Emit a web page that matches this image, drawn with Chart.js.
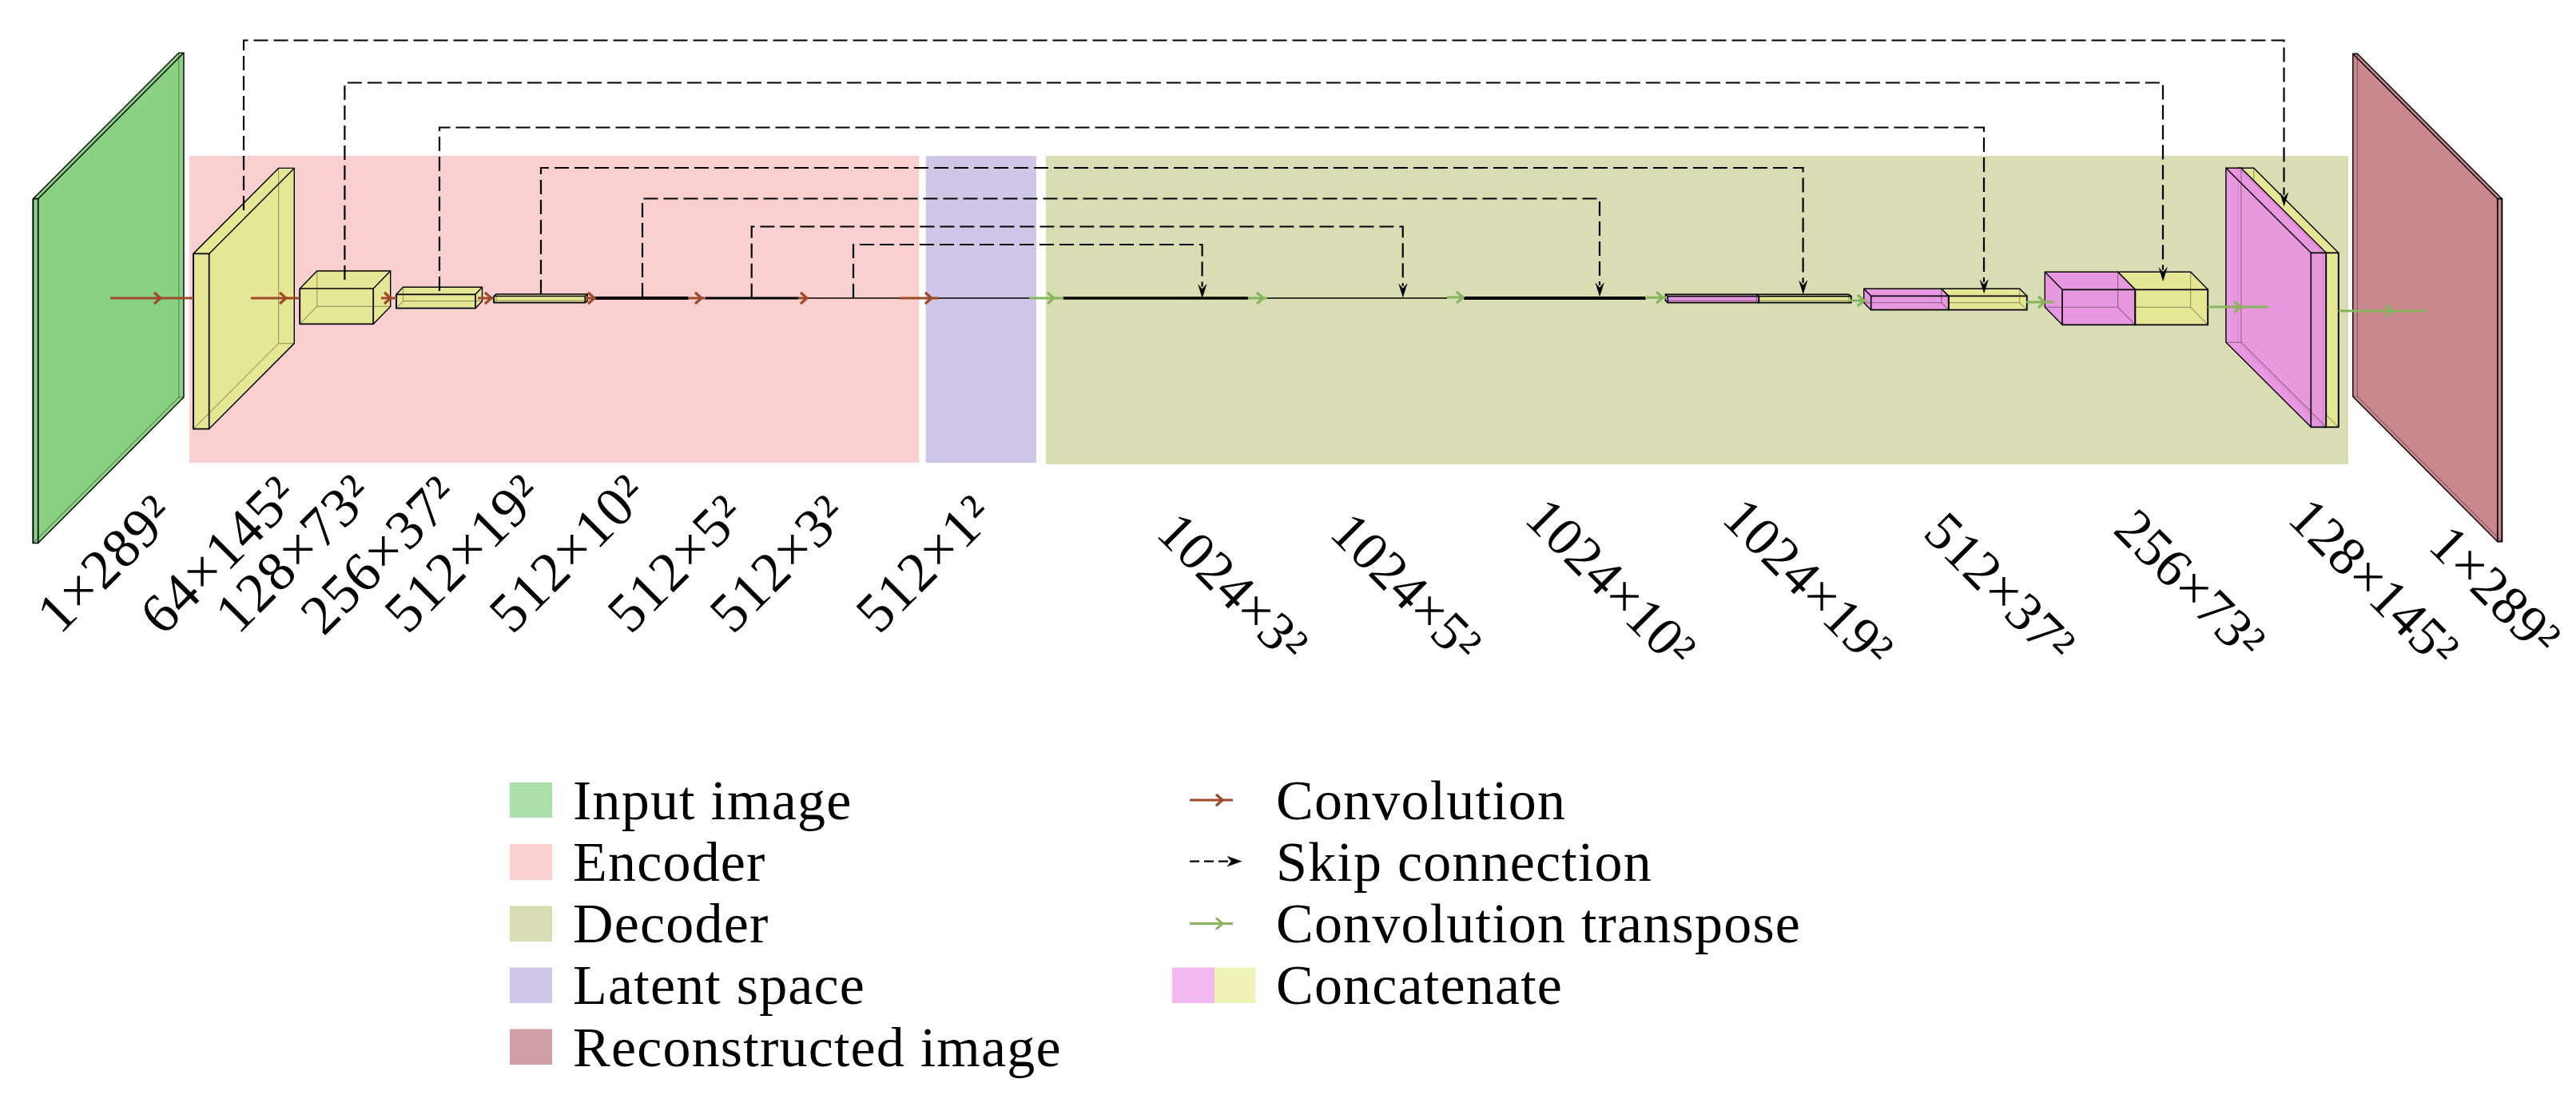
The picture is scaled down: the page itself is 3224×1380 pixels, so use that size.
<!DOCTYPE html>
<html>
<head>
<meta charset="utf-8">
<style>
  html, body { margin: 0; padding: 0; background: #fff; }
  canvas { display: block; }
</style>
<script src="https://cdn.jsdelivr.net/npm/chart.js@4"></script>
</head>
<body>
<canvas id="chart" width="3224" height="1380"></canvas>
<script>
// Diagram values. One unit on each axis is one unit of the drawing.
const regionNames = ["Encoder", "Latent space", "Decoder"];
const regionLeft = [237, 1158.7, 1308.9];
const regionRight = [1150.3, 1297, 2939];
const regionTop = [195, 195, 195];
const regionBottom = [579, 579, 580.8];

// Blocks: front face plus the offset of the back face.
// In a concatenated pair the yellow part comes first, the pink one lies over it.
const boxKinds = ["input", "feature", "feature", "feature", "feature",
  "feature", "skip", "feature", "skip", "feature", "skip", "feature", "skip", "output"];
const boxLeft = [41.4, 242, 375.3, 496, 618, 2201.3, 2087.3, 2438.7, 2341.7, 2672.3, 2581, 2907.3, 2892.3, 3125.8];
const boxRight = [47.7, 261.7, 467.2, 595, 732.4, 2316.7, 2201.3, 2536.7, 2438.7, 2763.3, 2672.3, 2926.7, 2911.3, 3131.4];
const boxTop = [248.7, 317.4, 361, 368.3, 370.5, 370.7, 370.7, 370.3, 370.3, 362.3, 362.3, 316.3, 316.3, 248.7];
const boxBottom = [679.5, 536.6, 405.4, 385.7, 378.6, 378.7, 378.7, 387.7, 387.7, 406.3, 406.3, 534.3, 534.3, 677.7];
const boxDepthX = [182.3, 106.6, 21.5, 8.5, 3, -3, -3, -9, -9, -21.7, -21.7, -106, -106.4, -181];
const boxDepthY = [-182.6, -107, -22, -9, -2.5, -2.5, -2.5, -9, -9, -22, -22, -106, -106, -181.5];

// Flat layers, too thin to show as blocks
const flatStart = [745, 882.5, 1010, 1175, 1330.6, 1586, 1832];
const flatEnd = [861.5, 999.6, 1126, 1288.5, 1562, 1811, 2060];
const flatWeight = [4, 3, 1.5, 1.5, 3.5, 1.5, 4];
const flatLevel = 373;

// Convolution arrows
const convStart = [138, 314, 477, 598, 733, 861, 1000, 1126];
const convEnd = [242, 375, 496, 618, 745, 882, 1010, 1175];
const convTip = [201, 358, 489, 615, 744, 878, 1010, 1166];
const convLevel = [373, 373, 373, 373, 373, 373, 373, 373];

// Convolution transpose arrows
const transStart = [1288.5, 1562, 1811, 2059, 2315.7, 2536, 2763.3, 2926.7];
const transEnd = [1330.6, 1586, 1832, 2086, 2336.7, 2571, 2839, 3036];
const transTip = [1319, 1581, 1831, 2081, 2332.7, 2559, 2804, 2994];
const transLevel = [373, 373, 372, 372.3, 376, 378, 384, 389];

// Skip connections
const skipFromX = [305, 431.4, 550, 677, 804, 940.7, 1068];
const skipFromY = [263, 350, 364, 368, 372, 372.8, 373];
const skipLevel = [50.5, 103.5, 159.5, 210, 248.5, 283.5, 306];
const skipToX = [2858.5, 2707, 2483, 2256.6, 2002, 1755.7, 1504.6];
const skipToY = [258, 351.7, 367, 368, 371, 372, 372.8];

// Size labels under the blocks
const encoderLabels = ["1×289²", "64×145²", "128×73²", "256×37²", "512×19²", "512×10²", "512×5²", "512×3²", "512×1²"];
const encoderLabelX = [75, 204, 298, 405, 510, 641, 789, 917, 1100];
const encoderLabelY = [795, 797, 795, 797, 795, 795, 795, 795, 795];
const decoderLabels = ["1024×3²", "1024×5²", "1024×10²", "1024×19²", "512×37²", "256×73²", "128×145²", "1×289²"];
const decoderLabelX = [1445, 1662, 1906, 2153, 2405, 2643, 2861, 3037];
const decoderLabelY = [669, 669, 651, 651, 669, 665, 651, 685];

// Legend
const legendLeftNames = ["Input image", "Encoder", "Decoder", "Latent space", "Reconstructed image"];
const legendLeftColors = ["#addfa8", "#f9cfd0", "#d9ddb4", "#d0c6e7", "#d09ea3"];
const legendRightNames = ["Convolution", "Skip connection", "Convolution transpose", "Concatenate"];
const legendRowTop = [979, 1056, 1133.5, 1210.5, 1287.5];
const legendRowBottom = [1023, 1101, 1178, 1255, 1332];
const legendBaseline = [1025, 1102, 1179, 1256, 1333.6];

const KIND_COLORS = {
  input: "#8ad184",
  feature: "#e6e794",
  skip: "rgba(232, 148, 226, 0.94)",
  output: "#c9878e",
};
const REGION_COLORS = ["#f9cfd0", "#d0c6e7", "#d9ddb4"];
const BROWN = "#9c4a2a";
const GREEN = "#86b55d";
const HIDDEN_EDGE = "rgba(0, 0, 0, 0.32)";

const datasets = [];

function addPath(points, style) {
  datasets.push({
    type: "scatter",
    showLine: true,
    data: points.map(([x, y]) => ({ x, y })),
    pointRadius: 0,
    tension: 0,
    borderColor: style.color || "#000",
    borderWidth: style.width === undefined ? 1.5 : style.width,
    borderDash: style.dash || [],
    borderCapStyle: "butt",
    borderJoinStyle: "miter",
    backgroundColor: style.fill || "transparent",
    fill: style.fill ? "shape" : false,
    order: -datasets.length,
  });
}

function addBox(i) {
  const [l, r, t, b] = [boxLeft[i], boxRight[i], boxTop[i], boxBottom[i]];
  const [dx, dy] = [boxDepthX[i], boxDepthY[i]];
  const fill = KIND_COLORS[boxKinds[i]];
  // near = side of the front face the depth runs towards
  const [near, far] = dx > 0 ? [r, l] : [l, r];

  addPath([[far, b], [far, t], [far + dx, t + dy], [near + dx, t + dy], [near + dx, b + dy], [near, b]],
    { fill, color: "#000", width: 1.4 });
  // edges at the back, seen through the block
  addPath([[far + dx, t + dy], [far + dx, b + dy], [near + dx, b + dy]], { color: HIDDEN_EDGE, width: 1.2 });
  addPath([[far, b], [far + dx, b + dy]], { color: HIDDEN_EDGE, width: 1.2 });
  // front face and the top edge
  addPath([[l, t], [r, t], [r, b], [l, b], [l, t]], { width: 1.7 });
  addPath([[near, t], [near + dx, t + dy]], { width: 1.4 });
}

function addArrow(start, end, tip, y, color) {
  addPath([[start, y], [end, y]], { color, width: 3 });
  addPath([[tip - 8, y - 7], [tip, y], [tip - 8, y + 7]], { color, width: 3.2 });
}

function addSkipHead(x, tipY) {
  addPath([[x - 5.3, tipY - 17], [x, tipY - 11], [x + 5.3, tipY - 17], [x, tipY]],
    { fill: "#000", color: "#000", width: 0.5 });
}

regionNames.forEach((name, i) => {
  addPath([[regionLeft[i], regionTop[i]], [regionRight[i], regionTop[i]],
    [regionRight[i], regionBottom[i]], [regionLeft[i], regionBottom[i]]],
    { fill: REGION_COLORS[i], color: "transparent", width: 0 });
});

boxKinds.forEach((kind, i) => addBox(i));

flatStart.forEach((x, i) => addPath([[x, flatLevel], [flatEnd[i], flatLevel]], { width: flatWeight[i] }));

convStart.forEach((x, i) => addArrow(x, convEnd[i], convTip[i], convLevel[i], BROWN));
transStart.forEach((x, i) => addArrow(x, transEnd[i], transTip[i], transLevel[i], GREEN));

skipFromX.forEach((x, i) => {
  addPath([[x, skipFromY[i]], [x, skipLevel[i]], [skipToX[i], skipLevel[i]], [skipToX[i], skipToY[i] - 14]],
    { width: 2.2, dash: [18, 7] });
  addSkipHead(skipToX[i], skipToY[i]);
});

// Legend swatches and arrows
legendLeftColors.forEach((color, i) => {
  addPath([[638, legendRowTop[i]], [691, legendRowTop[i]], [691, legendRowBottom[i]], [638, legendRowBottom[i]]],
    { fill: color, color: "transparent", width: 0 });
});
addArrow(1489, 1543, 1530, 1001, BROWN);
addArrow(1489, 1543, 1530, 1155.6, GREEN);
addPath([[1489, 1077.6], [1542, 1077.6]], { width: 2.2, dash: [12, 6] });
addPath([[1536, 1071], [1541, 1077.6], [1536, 1084], [1554, 1077.6]], { fill: "#000", color: "#000", width: 0.5 });
addPath([[1467, 1210.5], [1520, 1210.5], [1520, 1255], [1467, 1255]], { fill: "#f3b8f0", color: "transparent", width: 0 });
addPath([[1520, 1210.5], [1571.4, 1210.5], [1571.4, 1255], [1520, 1255]], { fill: "#f0f3b8", color: "transparent", width: 0 });

const textPlugin = {
  id: "diagramText",
  afterDatasetsDraw(chart) {
    const { ctx, scales } = chart;
    const px = (v) => scales.x.getPixelForValue(v);
    const py = (v) => scales.y.getPixelForValue(v);

    ctx.save();
    ctx.fillStyle = "#000";
    ctx.textBaseline = "alphabetic";
    ctx.textAlign = "left";

    const rotated = (text, x, y, angle) => {
      ctx.save();
      ctx.translate(px(x), py(y));
      ctx.rotate(angle);
      ctx.fillText(text, 0, 0);
      ctx.restore();
    };
    ctx.font = '70px "Liberation Serif"';
    ctx.letterSpacing = "1.4px";
    encoderLabels.forEach((t, i) => rotated(t, encoderLabelX[i], encoderLabelY[i], -Math.PI / 4));
    ctx.font = '68px "Liberation Serif"';
    ctx.letterSpacing = "0.5px";
    decoderLabels.forEach((t, i) => rotated(t, decoderLabelX[i], decoderLabelY[i], Math.PI / 4));

    ctx.font = '70px "Liberation Serif"';
    ctx.letterSpacing = "1.2px";
    legendLeftNames.forEach((t, i) => ctx.fillText(t, px(717), py(legendBaseline[i])));
    legendRightNames.forEach((t, i) => ctx.fillText(t, px(1597), py(legendBaseline[i])));
    ctx.restore();
  },
};

new Chart(document.getElementById("chart"), {
  type: "scatter",
  data: { datasets },
  plugins: [textPlugin],
  options: {
    responsive: false,
    devicePixelRatio: 1,
    animation: false,
    layout: { padding: 0 },
    plugins: {
      legend: { display: false },
      tooltip: { enabled: false },
    },
    scales: {
      x: { type: "linear", min: 0, max: 3224, display: false },
      y: { type: "linear", min: 0, max: 1380, reverse: true, display: false },
    },
  },
});
</script>
</body>
</html>
